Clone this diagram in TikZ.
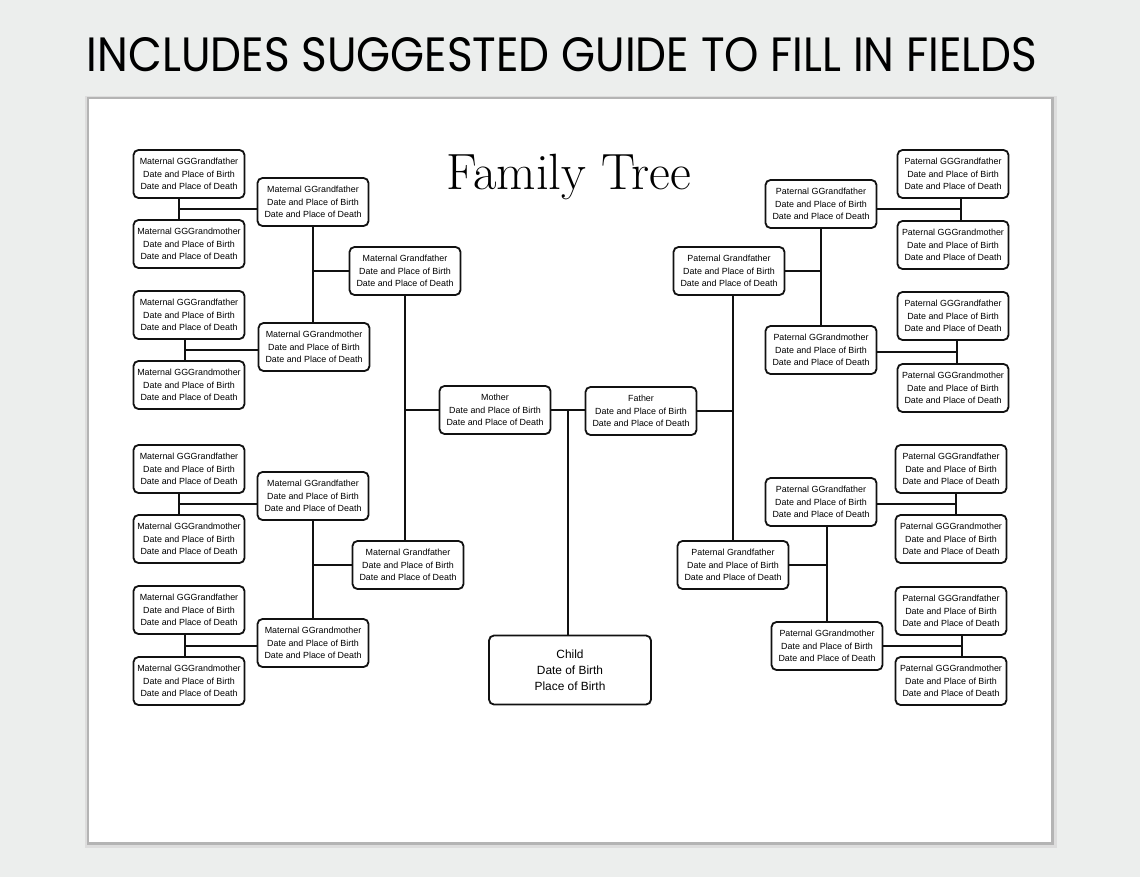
\documentclass[tikz,border=0pt]{standalone}
\usepackage{fontspec}
\setsansfont{Liberation Sans}
\newfontfamily\headfont{Poppins}
\usepackage{graphicx}
\usetikzlibrary{positioning,calc}
\definecolor{backdrop}{HTML}{ECEEED}
\definecolor{sheet}   {HTML}{FFFFFF}
\definecolor{ink}     {HTML}{111111}
\definecolor{shade}   {HTML}{8C8C8C}

\newcommand{\lifedates}{Date and Place of Birth\\Date and Place of Death}

\tikzset{
  person/.style={draw=ink,line width=1.8pt,rounded corners=5pt,fill=white,
    minimum width=111pt,minimum height=48pt,align=center,inner sep=2pt,
    font=\sffamily\fontsize{8.9}{12.3}\selectfont},
  childbox/.style={person,minimum width=162pt,minimum height=69pt,
    font=\sffamily\fontsize{11.9}{16}\selectfont},
  link/.style={draw=ink,line width=2pt},
}

\begin{document}
\begin{tikzpicture}[x=1pt,y=-1pt]
  % page and paper sheet
  \useasboundingbox (0,0) rectangle (1140,877);
  \fill[backdrop] (0,0) rectangle (1140,877);
  \fill[shade!30] (85,96) rectangle (1057,848);
  \fill[shade!65] (87,97) rectangle (1054,845);
  \fill[sheet] (89,99) rectangle (1051,842);

  \node[inner sep=0pt] (heading) at (562,55)
    {\resizebox{950pt}{34pt}{\headfont INCLUDES SUGGESTED GUIDE TO FILL IN FIELDS}};
  \node[anchor=base,inner sep=0pt] (treetitle) at (569,190)
    {\fontsize{51}{54}\selectfont\addfontfeatures{FakeBold=1.2}Family Tree};

  % maternal side
  \node[person] (mggg1) at (189,174) {Maternal GGGrandfather\\\lifedates};
  \node[person] (mggg2) at (189,244) {Maternal GGGrandmother\\\lifedates};
  \node[person] (mggg3) at (189,315) {Maternal GGGrandfather\\\lifedates};
  \node[person] (mggg4) at (189,385) {Maternal GGGrandmother\\\lifedates};
  \node[person] (mggg5) at (189,469) {Maternal GGGrandfather\\\lifedates};
  \node[person] (mggg6) at (189,539) {Maternal GGGrandmother\\\lifedates};
  \node[person] (mggg7) at (189,610) {Maternal GGGrandfather\\\lifedates};
  \node[person] (mggg8) at (189,681) {Maternal GGGrandmother\\\lifedates};
  \node[person] (mgg1) at (313,202) {Maternal GGrandfather\\\lifedates};
  \node[person] (mgg2) at (314,347) {Maternal GGrandmother\\\lifedates};
  \node[person] (mgg3) at (313,496) {Maternal GGrandfather\\\lifedates};
  \node[person] (mgg4) at (313,643) {Maternal GGrandmother\\\lifedates};
  \node[person] (mg1) at (405,271) {Maternal Grandfather\\\lifedates};
  \node[person] (mg2) at (408,565) {Maternal Grandfather\\\lifedates};
  \node[person] (mother) at (495,410) {Mother\\\lifedates};

  % paternal side
  \node[person] (father) at (641,411) {Father\\\lifedates};
  \node[person] (pg1) at (729,271) {Paternal Grandfather\\\lifedates};
  \node[person] (pg2) at (733,565) {Paternal Grandfather\\\lifedates};
  \node[person] (pgg1) at (821,204) {Paternal GGrandfather\\\lifedates};
  \node[person] (pgg2) at (821,350) {Paternal GGrandmother\\\lifedates};
  \node[person] (pgg3) at (821,502) {Paternal GGrandfather\\\lifedates};
  \node[person] (pgg4) at (827,646) {Paternal GGrandmother\\\lifedates};
  \node[person] (pggg1) at (953,174) {Paternal GGGrandfather\\\lifedates};
  \node[person] (pggg2) at (953,245) {Paternal GGGrandmother\\\lifedates};
  \node[person] (pggg3) at (953,316) {Paternal GGGrandfather\\\lifedates};
  \node[person] (pggg4) at (953,388) {Paternal GGGrandmother\\\lifedates};
  \node[person] (pggg5) at (951,469) {Paternal GGGrandfather\\\lifedates};
  \node[person] (pggg6) at (951,539) {Paternal GGGrandmother\\\lifedates};
  \node[person] (pggg7) at (951,611) {Paternal GGGrandfather\\\lifedates};
  \node[person] (pggg8) at (951,681) {Paternal GGGrandmother\\\lifedates};

  \node[childbox] (child) at (570,670) {Child\\Date of Birth\\Place of Birth};

  % outer couples joined to their child
  \foreach \up/\down/\kid/\dx/\side in {mggg1/mggg2/mgg1/-10/west,mggg3/mggg4/mgg2/-4/west,
      mggg5/mggg6/mgg3/-10/west,mggg7/mggg8/mgg4/-4/west,
      pggg1/pggg2/pgg1/8/east,pggg3/pggg4/pgg2/4/east,
      pggg5/pggg6/pgg3/5/east,pggg7/pggg8/pgg4/11/east}{
    \coordinate (knot) at ($(\up.south)!0.5!(\down.north)+(\dx,0)$);
    \draw[link] (\up.south -| knot) -- (\down.north -| knot);
    \draw[link] (knot) -- (knot -| \kid.\side);
  }

  % great-grandparents to grandparents
  \draw[link] (mgg1.south) -- (mgg1.south |- mgg2.north);
  \draw[link] (mg1.west) -- (mg1.west -| mgg1.south);
  \draw[link] (mgg3.south) -- (mgg3.south |- mgg4.north);
  \draw[link] (mg2.west) -- (mg2.west -| mgg3.south);
  \draw[link] (pgg1.south) -- (pgg1.south |- pgg2.north);
  \draw[link] (pg1.east) -- (pg1.east -| pgg1.south);
  \draw[link] (pgg4.north) -- (pgg4.north |- pgg3.south);
  \draw[link] (pg2.east) -- (pg2.east -| pgg4.north);

  % grandparents to parents
  \draw[link] (mg1.south) -- (mg1.south |- mg2.north);
  \draw[link] (mother.west) -- (mother.west -| mg1.south);
  \draw[link] (pg2.north) -- (pg2.north |- pg1.south);
  \draw[link] (father.east) -- (father.east -| pg2.north);

  % parents to child
  \draw[link] (mother.east) -- (mother.east -| father.west);
  \coordinate (childknot) at ($(mother.east)!0.5!(father.west)$);
  \draw[link] (childknot) -- (childknot |- child.north);
\end{tikzpicture}
\end{document}
